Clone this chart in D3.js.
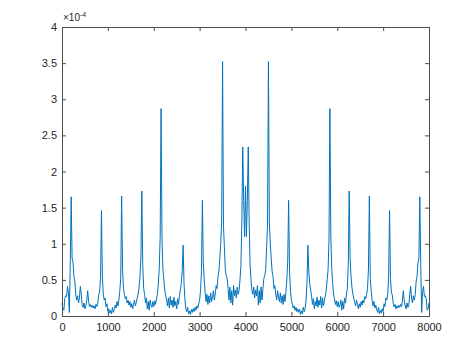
<!DOCTYPE html>
<html>
<head>
<meta charset="utf-8">
<script src="https://cdn.jsdelivr.net/npm/d3@7"></script>
<style>
  body { margin: 0; background: #fff; }
  text { font-family: "Liberation Sans", Arial, sans-serif; }
</style>
</head>
<body>
<svg id="chart" width="474" height="355"></svg>
<script>
// sample spacing on the x axis (one value every 20 units, 0..8000)
const xStep = 20;

// signal values, in units of 1e-4 (see exponent label)
const signal = [
  0.18, 0.10, 0.08, 0.24, 0.28, 0.27, 0.41, 0.33, 0.05, 0.70,
  1.65, 0.80, 0.74, 0.55, 0.48, 0.30, 0.22, 0.28, 0.18, 0.25,
  0.41, 0.30, 0.15, 0.12, 0.18, 0.10, 0.14, 0.22, 0.35, 0.20,
  0.13, 0.16, 0.12, 0.15, 0.11, 0.14, 0.10, 0.16, 0.13, 0.18,
  0.29, 0.33, 0.52, 1.46, 0.55, 0.30, 0.22, 0.25, 0.13, 0.17,
  0.06, 0.10, 0.04, 0.08, 0.03, 0.12, 0.05, 0.09, 0.15, 0.11,
  0.20, 0.14, 0.22, 0.35, 0.52, 1.66, 0.65, 0.38, 0.30, 0.24,
  0.27, 0.18, 0.22, 0.15, 0.20, 0.12, 0.17, 0.10, 0.16, 0.22,
  0.14, 0.19, 0.25, 0.30, 0.40, 0.55, 0.80, 1.73, 0.70, 0.38,
  0.30, 0.18, 0.25, 0.10, 0.20, 0.08, 0.22, 0.15, 0.12, 0.20,
  0.13, 0.21, 0.16, 0.24, 0.30, 0.45, 0.66, 1.10, 2.87, 1.05,
  0.64, 0.50, 0.36, 0.28, 0.22, 0.14, 0.25, 0.11, 0.27, 0.15,
  0.22, 0.12, 0.26, 0.14, 0.20, 0.10, 0.24, 0.16, 0.28, 0.36,
  0.45, 0.62, 0.98, 0.45, 0.22, 0.10, 0.06, 0.12, 0.03, 0.07,
  0.02, 0.09, 0.05, 0.10, 0.06, 0.12, 0.08, 0.14, 0.11, 0.17,
  0.22, 0.35, 0.62, 1.60, 0.75, 0.50, 0.32, 0.20, 0.30, 0.16,
  0.28, 0.18, 0.32, 0.20, 0.26, 0.35, 0.22, 0.30, 0.42, 0.38,
  0.55, 0.62, 0.80, 1.00, 1.30, 3.52, 1.25, 0.95, 0.64, 0.56,
  0.52, 0.38, 0.22, 0.40, 0.18, 0.35, 0.15, 0.42, 0.28, 0.36,
  0.25, 0.40, 0.30, 0.35, 0.50, 0.70, 1.30, 2.34, 1.60, 1.10,
  1.80,
  1.10, 1.60, 2.34, 1.30, 0.70, 0.50, 0.35, 0.30, 0.40, 0.25,
  0.36, 0.28, 0.42, 0.15, 0.35, 0.18, 0.40, 0.22, 0.38, 0.52,
  0.56, 0.64, 0.95, 1.25, 3.52, 1.30, 1.00, 0.80, 0.62, 0.55,
  0.38, 0.42, 0.30, 0.22, 0.35, 0.26, 0.20, 0.32, 0.18, 0.28,
  0.16, 0.30, 0.20, 0.32, 0.50, 0.75, 1.60, 0.62, 0.35, 0.22,
  0.17, 0.11, 0.14, 0.08, 0.12, 0.06, 0.10, 0.05, 0.09, 0.02,
  0.07, 0.03, 0.12, 0.06, 0.10, 0.22, 0.45, 0.98, 0.62, 0.45,
  0.36, 0.28, 0.16, 0.24, 0.10, 0.20, 0.14, 0.26, 0.12, 0.22,
  0.15, 0.27, 0.11, 0.25, 0.14, 0.22, 0.28, 0.36, 0.50, 0.64,
  1.05, 2.87, 1.10, 0.66, 0.45, 0.30, 0.24, 0.16, 0.21, 0.13,
  0.20, 0.12, 0.15, 0.22, 0.08, 0.20, 0.10, 0.25, 0.18, 0.30,
  0.38, 0.70, 1.73, 0.80, 0.55, 0.40, 0.30, 0.25, 0.19, 0.14,
  0.22, 0.16, 0.10, 0.17, 0.12, 0.20, 0.15, 0.22, 0.18, 0.27,
  0.24, 0.30, 0.38, 0.65, 1.66, 0.52, 0.35, 0.22, 0.14, 0.20,
  0.11, 0.15, 0.09, 0.05, 0.12, 0.03, 0.08, 0.04, 0.10, 0.06,
  0.17, 0.13, 0.25, 0.22, 0.30, 0.55, 1.46, 0.52, 0.33, 0.29,
  0.18, 0.13, 0.16, 0.10, 0.14, 0.11, 0.15, 0.12, 0.16, 0.13,
  0.20, 0.35, 0.22, 0.14, 0.10, 0.18, 0.12, 0.15, 0.30, 0.41,
  0.25, 0.18, 0.28, 0.22, 0.30, 0.48, 0.55, 0.74, 0.80, 1.65,
  0.70, 0.05, 0.33, 0.41, 0.27, 0.28, 0.24, 0.08, 0.10, 0.18
];

const xTicks = [0, 1000, 2000, 3000, 4000, 5000, 6000, 7000, 8000];
const yTicks = [0, 0.5, 1, 1.5, 2, 2.5, 3, 3.5, 4];
const exponent = "-4";

const margin = {top: 27, right: 45, bottom: 39, left: 62};
const svg = d3.select("#chart");
const width = +svg.attr("width") - margin.left - margin.right;
const height = +svg.attr("height") - margin.top - margin.bottom;

const x = d3.scaleLinear().domain([0, 8000]).range([0, width]);
const y = d3.scaleLinear().domain([0, 4]).range([height, 0]);

const g = svg.append("g").attr("transform", "translate(" + margin.left + "," + margin.top + ")");

const points = signal.map(function(v, i) { return {x: i * xStep, y: v}; });

g.append("path")
  .datum(points)
  .attr("fill", "none")
  .attr("stroke", "#0072BD")
  .attr("stroke-width", 1)
  .attr("stroke-linejoin", "round")
  .attr("d", d3.line().x(function(d) { return x(d.x); }).y(function(d) { return y(d.y); }));

// axes: ticks point inward, box on
const axisColor = "#4d4d4d";
const textColor = "#262626";

function styleAxis(sel) {
  sel.selectAll("path.domain").attr("stroke", axisColor);
  sel.selectAll(".tick line").attr("stroke", axisColor);
  sel.selectAll(".tick text").attr("fill", textColor).attr("font-size", "11px")
     .attr("font-family", "'Liberation Sans', Arial, sans-serif");
}

g.append("g").attr("transform", "translate(0," + height + ")")
  .call(d3.axisBottom(x).tickValues(xTicks).tickSizeInner(-4).tickSizeOuter(0).tickPadding(7).tickFormat(d3.format("d")))
  .call(styleAxis);

g.append("g")
  .call(d3.axisTop(x).tickValues(xTicks).tickSizeInner(-4).tickSizeOuter(0).tickFormat(""))
  .call(styleAxis);

g.append("g")
  .call(d3.axisLeft(y).tickValues(yTicks).tickSizeInner(-4).tickSizeOuter(0).tickPadding(5).tickFormat(function(d) { return String(d); }))
  .call(styleAxis);

g.append("g").attr("transform", "translate(" + width + ",0)")
  .call(d3.axisRight(y).tickValues(yTicks).tickSizeInner(-4).tickSizeOuter(0).tickFormat(""))
  .call(styleAxis);

// exponent label above the y axis
const expLabel = svg.append("text")
  .attr("x", margin.left + 1)
  .attr("y", margin.top - 6)
  .attr("fill", textColor)
  .attr("font-size", "10px");
expLabel.append("tspan").text("\u00d710");
expLabel.append("tspan").attr("dy", -4).attr("font-size", "7px").text(exponent);
</script>
</body>
</html>
